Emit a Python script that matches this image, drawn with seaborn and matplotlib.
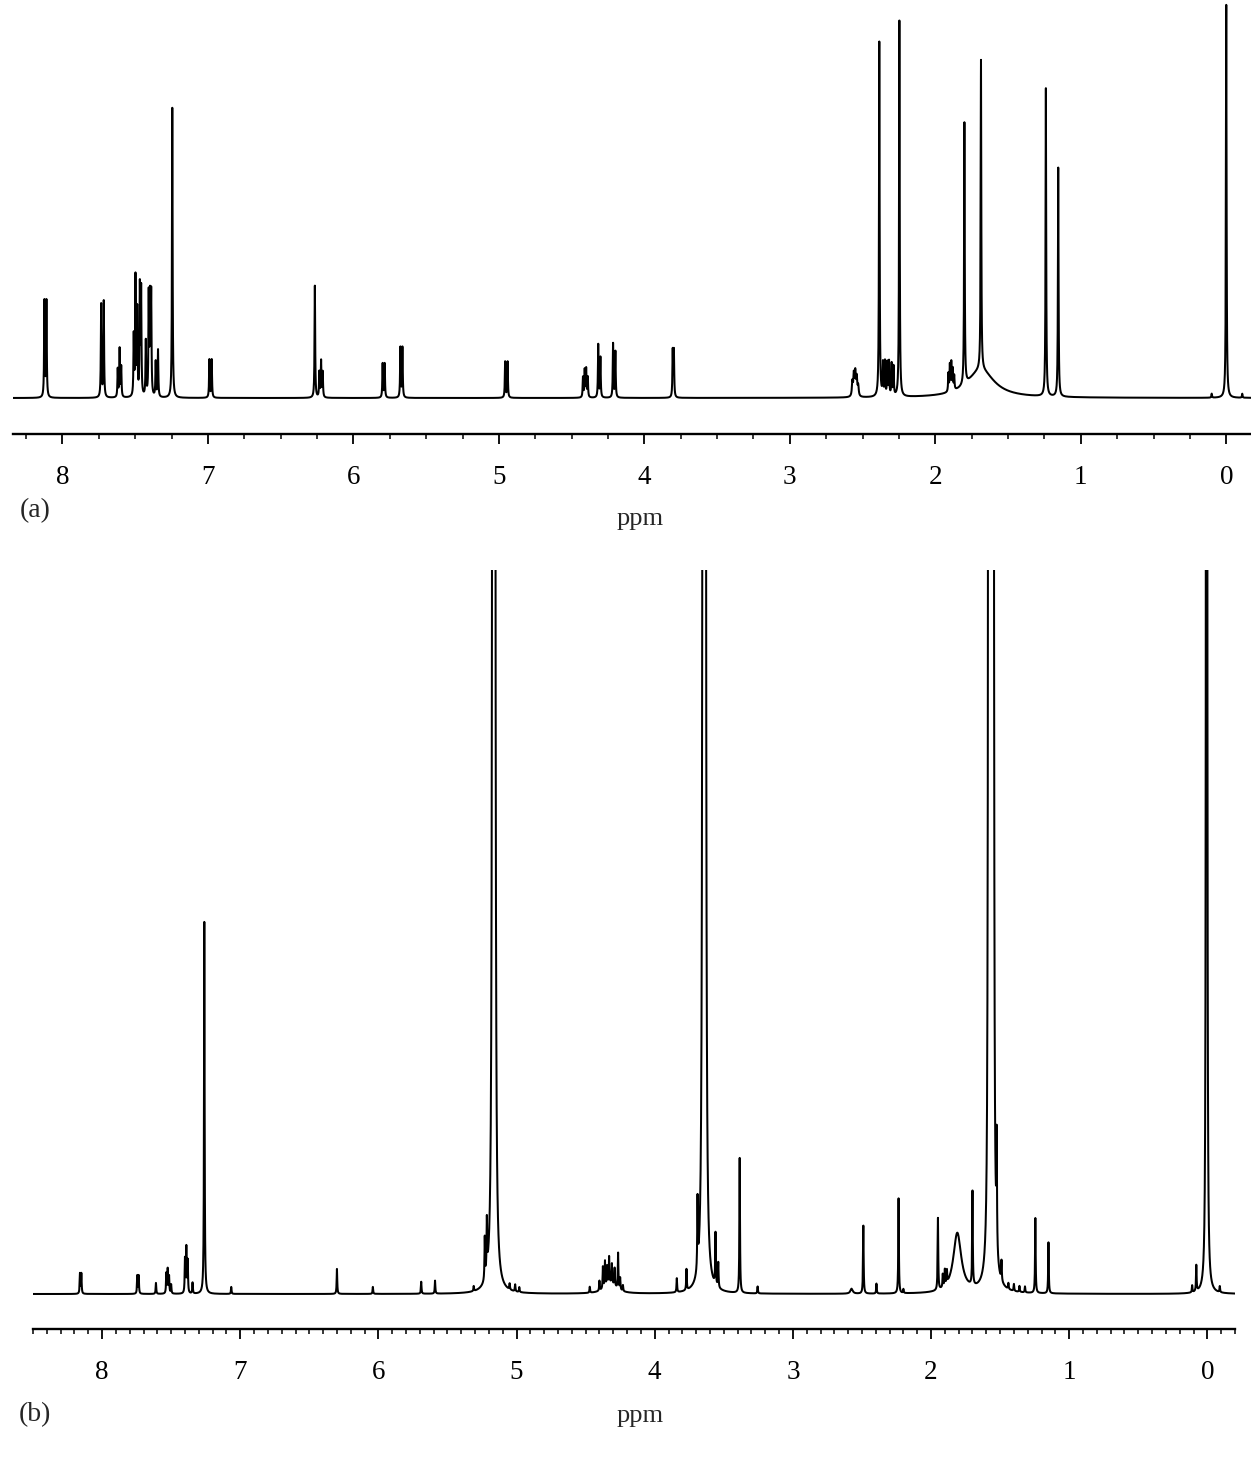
import numpy as np
import pandas as pd
import matplotlib
matplotlib.use("Agg")
import matplotlib.pyplot as plt
import seaborn as sns
from matplotlib.ticker import MultipleLocator, FormatStrFormatter

sns.set_theme(style="white")
plt.rcParams['font.family'] = ['Liberation Serif', 'DejaVu Serif']

# ---------------- Panel (a): peak list (ppm, height, half-width) ----------------
a_shift = [8.124, 8.110, 7.734, 7.716, 7.620, 7.607, 7.596,
           7.510, 7.498, 7.486, 7.468, 7.459, 7.427, 7.407, 7.398, 7.390, 7.359, 7.343,
           7.245, 6.990, 6.974, 6.265, 6.234, 6.222, 6.211, 5.799, 5.785, 5.677, 5.663,
           4.957, 4.940, 4.422, 4.410, 4.400, 4.389, 4.317, 4.302, 4.215, 4.199,
           3.805, 3.797, 2.570, 2.560, 2.550, 2.540, 2.530,
           2.385, 2.360, 2.346, 2.330, 2.318, 2.300, 2.287, 2.247,
           1.910, 1.900, 1.890, 1.880, 1.870, 1.800, 1.686, 1.686,
           1.240, 1.155, 0.100, 0.000, -0.110]
a_height = [96, 96, 93, 96, 28, 48, 30,
            60, 118, 85, 108, 105, 55, 100, 95, 100, 35, 47,
            290, 38, 38, 112, 25, 36, 25, 34, 34, 50, 50,
            36, 36, 20, 27, 28, 20, 53, 40, 54, 46,
            46, 46, 14, 21, 23, 18, 10,
            355, 32, 34, 33, 34, 32, 29, 376,
            18, 26, 28, 21, 14, 262, 310, 28,
            308, 229, 4, 393, 4]
a_width = [0.0025] * len(a_shift)
for i in range(41, 46):
    a_width[i] = 0.004
a_width[61] = 0.11          # broad hump under 1.69 ppm

# ---------------- Panel (b): peak list ----------------
b_shift = [8.160, 8.150, 7.745, 7.735, 7.610, 7.535, 7.525, 7.515, 7.500,
           7.400, 7.390, 7.380, 7.345, 7.260, 7.065, 6.300, 6.040, 5.690, 5.590,
           5.310, 5.230, 5.215, 5.172, 5.158, 5.050, 5.010, 4.980,
           4.470, 4.400, 4.375, 4.360, 4.345, 4.330, 4.310, 4.290, 4.265, 4.250, 4.230, 4.320,
           3.840, 3.770, 3.690, 3.650, 3.634, 3.560, 3.540,
           3.385, 3.255, 2.575, 2.490, 2.395, 2.235, 2.200,
           1.950, 1.915, 1.900, 1.885, 1.810, 1.700,
           1.584, 1.572, 1.560, 1.548, 1.525, 1.490, 1.440, 1.400, 1.360, 1.320,
           1.245, 1.150, 0.110, 0.080, 0.008, 0.003, -0.090]
b_height = [20, 20, 18, 18, 11, 20, 24, 17, 9,
            34, 45, 32, 11, 372, 7, 25, 7, 12, 13,
            5, 42, 52, 2500, 2500, 6, 7, 5,
            6, 10, 22, 26, 19, 27, 20, 18, 36, 12, 6, 10,
            14, 21, 70, 2600, 2600, 52, 25,
            135, 7, 5, 68, 10, 95, 4,
            72, 13, 16, 13, 60, 94,
            1400, 1400, 1400, 1400, 110, 20, 6, 7, 6, 6,
            75, 51, 7, 26, 2200, 2200, 6]
b_width = [0.0025] * len(b_shift)
b_width[b_shift.index(2.575)] = 0.01
b_width[b_shift.index(1.810)] = 0.035
b_width[b_shift.index(4.320)] = 0.05
for s in (5.172, 5.158, 3.650, 3.634, 1.584, 1.572, 1.560, 1.548):
    b_width[b_shift.index(s)] = 0.0035
for s in (0.008, 0.003):
    b_width[b_shift.index(s)] = 0.002


def spectrum(grid, shifts, heights, widths):
    y = np.zeros_like(grid)
    for s, h, w in zip(shifts, heights, widths):
        y += h / (1.0 + ((grid - s) / w) ** 2)
    return y


grid_a = np.arange(-0.17, 8.34, 0.0002)
grid_b = np.arange(-0.20, 8.50, 0.0002)
df_a = pd.DataFrame({"ppm": grid_a, "I": spectrum(grid_a, a_shift, a_height, a_width)})
df_b = pd.DataFrame({"ppm": grid_b, "I": spectrum(grid_b, b_shift, b_height, b_width)})

W, H = 1251, 1457
fig = plt.figure(figsize=(W / 100, H / 100), dpi=100)
fig.patch.set_facecolor("white")

ax_a = fig.add_axes([13 / W, 1 - 434 / H, (1251 - 13) / W, 434 / H])
ax_b = fig.add_axes([33 / W, 1 - 1329 / H, (1235 - 33) / W, (1329 - 570) / H])

for ax, df, xl, yl, minor in ((ax_a, df_a, (8.34, -0.17), (-36, 398), 0.25),
                              (ax_b, df_b, (8.50, -0.20), (-35, 724), 0.1)):
    sns.lineplot(data=df, x="ppm", y="I", ax=ax, color="black", linewidth=1.45,
                 estimator=None, sort=False, errorbar=None)
    ax.set_xlim(*xl)
    ax.set_ylim(*yl)
    ax.set_facecolor("white")
    for sp in ("top", "right", "left"):
        ax.spines[sp].set_visible(False)
    ax.spines["bottom"].set_linewidth(1.7)
    ax.spines["bottom"].set_color("black")
    ax.yaxis.set_visible(False)
    ax.set_xlabel("")
    ax.set_ylabel("")
    ax.xaxis.set_major_locator(MultipleLocator(1))
    ax.xaxis.set_minor_locator(MultipleLocator(minor))
    ax.xaxis.set_major_formatter(FormatStrFormatter("%d"))
    ax.tick_params(axis="x", which="major", direction="out", length=7, width=1.3,
                   pad=15, labelsize=19.5, colors="black", bottom=True)
    ax.tick_params(axis="x", which="minor", direction="out", length=3.5, width=1.1,
                   colors="black", bottom=True)
    ax.grid(False)

fig.text(35 / W, 1 - 511 / H, "(a)", ha="center", va="center", fontsize=20)
fig.text(640 / W, 1 - 519 / H, "ppm", ha="center", va="center", fontsize=19)
fig.text(35 / W, 1 - 1415 / H, "(b)", ha="center", va="center", fontsize=20)
fig.text(640 / W, 1 - 1416 / H, "ppm", ha="center", va="center", fontsize=19)

fig.savefig("out.png", dpi=100, facecolor="white")
